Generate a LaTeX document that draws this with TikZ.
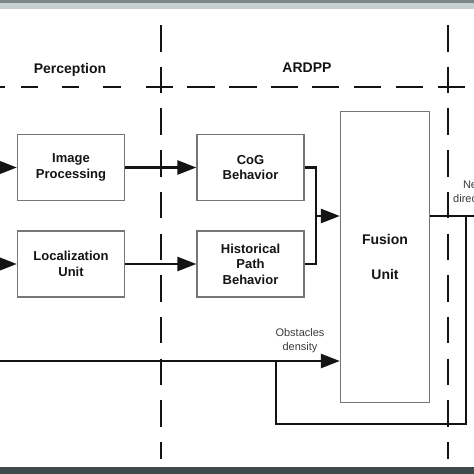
\documentclass[tikz,border=0pt]{standalone}
\usepackage{fontspec}
\setmainfont{Liberation Sans}
\usetikzlibrary{arrows.meta,calc}
\definecolor{boxgray}{RGB}{118,118,118}
\definecolor{ink}{RGB}{20,20,20}
\definecolor{topdark}{RGB}{125,135,135}
\definecolor{toplight}{RGB}{200,207,207}
\definecolor{botdark}{RGB}{62,74,74}
\definecolor{lbl}{RGB}{60,60,60}
\begin{document}
\begin{tikzpicture}[x=1pt,y=-1pt,
  blk/.style={draw=boxgray, line width=1.3pt, minimum width=107pt, minimum height=66pt,
    inner sep=0pt, align=center, text=ink, font=\fontsize{13}{15.5}\selectfont\bfseries},
  head/.style={text=ink, font=\fontsize{14}{16}\selectfont\bfseries},
  small/.style={text=lbl, align=center, font=\fontsize{11}{14}\selectfont},
  ln/.style={draw=ink, line width=2.6pt},
  arr/.style={ln, -{Triangle[length=19pt,width=14pt]}},
  dsh/.style={draw=ink, line width=2.2pt}]
\clip (0,0) rectangle (474,474);
\useasboundingbox (0,0) rectangle (474,474);
\fill[white] (0,0) rectangle (474,474);
% frame bands
\fill[topdark] (0,0) rectangle (474,3);
\fill[toplight] (0,3) rectangle (474,9);
\fill[botdark] (0,467) rectangle (474,474);
% dashed separators
\foreach \a/\b in {0/5,21/38,62/79,103/121,146/173,187/215,229/257,271/298,312/339,354/381,396/423,438/465}
  \draw[dsh] (\a,87) -- (\b,87);
\foreach \xx in {161,448}{
  \foreach \a in {25,66.7,108.4,150.1,191.8,233.5,275.2,316.9,358.6,400.3}
    \draw[dsh] (\xx,\a) -- (\xx,\a+26.5);
  \draw[dsh] (\xx,442) -- (\xx,459);
}
% headings
\node[head] (perc) at (70,70) {Perception};
\node[head] (ardpp) at (307,68) {ARDPP};
% blocks
\node[blk] (ip) at (71,167.5) {Image\\Processing};
\node[blk] (lu) at (71,264) {Localization\\Unit};
\node[blk] (cog) at (250.5,167.5) {CoG\\Behavior};
\node[blk] (hp) at (250.5,264) {Historical\\Path\\Behavior};
\node[blk, minimum width=89pt, minimum height=291pt, font=\fontsize{14}{16}\selectfont\bfseries]
  (fu) at (385,257) {Fusion\\[19pt]Unit};
% coordinates
\coordinate (in1) at (0,167.5);
\coordinate (in2) at (0,264);
\coordinate (obs) at (0,361);
\coordinate (j) at (316,216);
\coordinate (out) at (474,216);
\coordinate (fb) at (466,216);
\coordinate (low) at (466,424);
\coordinate (tap) at (276,361);
% connectors
\draw[arr] (in1) -- (ip.west);
\draw[arr] (in2) -- (lu.west);
\draw[arr] (ip.east) -- (cog.west);
\draw[arr] (lu.east) -- (hp.west);
\draw[ln] (cog.east) -| (j) |- (hp.east);
\draw[arr] (j) -- (j -| fu.west);
\draw[arr] (obs) -- (obs -| fu.west);
\draw[ln] (fu.east |- out) -- (out);
\draw[ln] (fb) -- (low) -| (tap);
% labels
\node[small] (obslbl) at (300,341) {Obstacles\\density};
\node[small] (newdir) at (474,192) {New\\direction};
\end{tikzpicture}
\end{document}
